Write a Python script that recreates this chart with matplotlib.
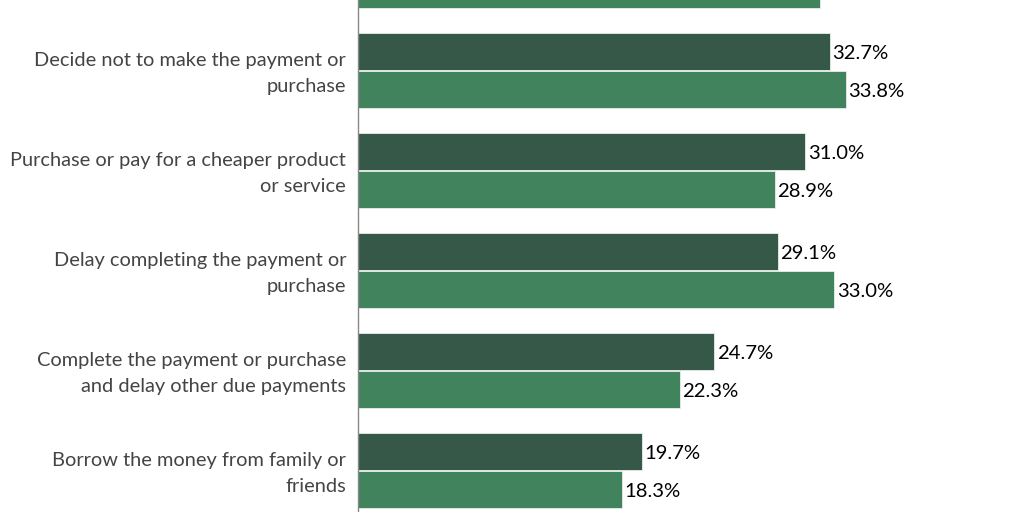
import matplotlib

matplotlib.use("Agg")
import matplotlib.pyplot as plt
import matplotlib.transforms as mtransforms
import numpy as np

# first category is cut off at the top of the reference image
categories = [
    "",
    "Decide not to make the payment or\npurchase",
    "Purchase or pay for a cheaper product\nor service",
    "Delay completing the payment or\npurchase",
    "Complete the payment or purchase\nand delay other due payments",
    "Borrow the money from family or\nfriends",
]
series_dark = [33.0, 32.7, 31.0, 29.1, 24.7, 19.7]
series_light = [32.0, 33.8, 28.9, 33.0, 22.3, 18.3]

DARK = "#355848"
LIGHT = "#41835c"

plt.rcParams["font.family"] = ["Lato", "DejaVu Sans"]

fig = plt.figure(figsize=(10.24, 5.12), dpi=100)
ax = fig.add_axes([358 / 1024, 0, 1 - 358 / 1024, 1])

pos = np.arange(len(categories))
h = 0.37
ax.barh(pos - 0.19, series_dark, height=h, color=DARK, edgecolor="#e8efe9", linewidth=0.6)
ax.barh(pos + 0.19, series_light, height=h, color=LIGHT, edgecolor="#e8efe9", linewidth=0.6)

value_trans = ax.transData + mtransforms.ScaledTranslation(
    2.5 / 100, -2.5 / 100, fig.dpi_scale_trans
)
for i in range(1, len(categories)):
    ax.text(series_dark[i], pos[i] - 0.19, f"{series_dark[i]:.1f}%", transform=value_trans,
            va="center", ha="left", fontsize=14.6, color="black")
    ax.text(series_light[i], pos[i] + 0.19, f"{series_light[i]:.1f}%", transform=value_trans,
            va="center", ha="left", fontsize=14.6, color="black")

# category labels, right-aligned next to the axis line
label_trans = ax.get_yaxis_transform() + mtransforms.ScaledTranslation(
    -12 / 100, -3.5 / 100, fig.dpi_scale_trans
)
for p, cat in zip(pos, categories):
    ax.text(0, p, cat, transform=label_trans, ha="right", va="center",
            multialignment="right", fontsize=14.4, color="#444444", linespacing=1.58)

ax.set_yticks([])
ax.set_xticks([])
ax.set_xlim(0, (1024 - 358) / 14.43)
ax.set_ylim(5.42, 0.30)

for side in ["top", "right", "bottom"]:
    ax.spines[side].set_visible(False)
ax.spines["left"].set_color("#888888")
ax.spines["left"].set_linewidth(1)

fig.savefig("out.png", dpi=100)
